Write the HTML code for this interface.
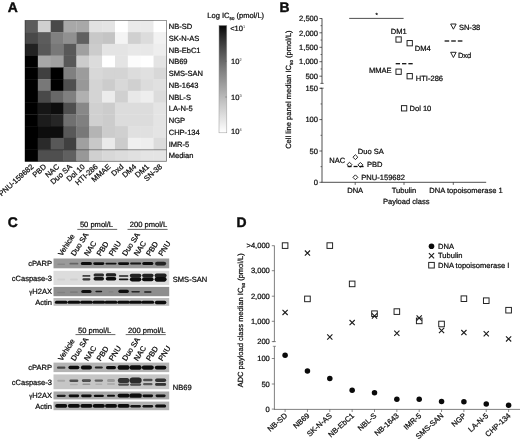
<!DOCTYPE html>
<html lang="en"><head><meta charset="utf-8"><title>Figure</title>
<style>
html,body{margin:0;padding:0;background:#fff;}
body{width:520px;height:439px;overflow:hidden;}
svg{display:block;filter:blur(0.3px);font-family:"Liberation Sans",Arial,sans-serif;}
text{fill:#0c0c0c;stroke:#0c0c0c;stroke-width:0.23px;text-rendering:geometricPrecision;}
text.pl{stroke-width:0.4px;}
</style></head><body>
<svg width="520" height="439" viewBox="0 0 520 439">
<defs>
<linearGradient id="cb" x1="0" y1="0" x2="0" y2="1"><stop offset="0" stop-color="#080808"/><stop offset="0.02" stop-color="#0c0c0c"/><stop offset="0.05" stop-color="rgb(23,23,23)"/><stop offset="0.10" stop-color="rgb(40,40,40)"/><stop offset="0.15" stop-color="rgb(56,56,56)"/><stop offset="0.20" stop-color="rgb(70,70,70)"/><stop offset="0.25" stop-color="rgb(84,84,84)"/><stop offset="0.30" stop-color="rgb(97,97,97)"/><stop offset="0.35" stop-color="rgb(110,110,110)"/><stop offset="0.40" stop-color="rgb(123,123,123)"/><stop offset="0.45" stop-color="rgb(135,135,135)"/><stop offset="0.50" stop-color="rgb(146,146,146)"/><stop offset="0.55" stop-color="rgb(158,158,158)"/><stop offset="0.60" stop-color="rgb(169,169,169)"/><stop offset="0.65" stop-color="rgb(181,181,181)"/><stop offset="0.70" stop-color="rgb(192,192,192)"/><stop offset="0.75" stop-color="rgb(203,203,203)"/><stop offset="0.80" stop-color="rgb(213,213,213)"/><stop offset="0.85" stop-color="rgb(224,224,224)"/><stop offset="0.90" stop-color="rgb(234,234,234)"/><stop offset="0.95" stop-color="rgb(245,245,245)"/><stop offset="1.00" stop-color="rgb(255,255,255)"/></linearGradient>
<filter id="b1" x="-10%" y="-50%" width="120%" height="200%"><feGaussianBlur stdDeviation="0.7"/></filter>
<filter id="b03" x="-5%" y="-5%" width="110%" height="110%"><feGaussianBlur stdDeviation="0.35"/></filter>
</defs>
<rect width="520" height="439" fill="#fff"/>
<text x="7.7" y="12.0" font-size="13.9" text-anchor="start" font-weight="bold" class="pl">A</text>
<text x="279.5" y="12.0" font-size="13.9" text-anchor="start" font-weight="bold" class="pl">B</text>
<text x="7.8" y="226.6" font-size="13.9" text-anchor="start" font-weight="bold" class="pl">C</text>
<text x="236.6" y="226.9" font-size="13.9" text-anchor="start" font-weight="bold" class="pl">D</text>
<g filter="url(#b03)">
<rect x="25.00" y="20.40" width="13.15" height="12.04" fill="rgb(92,92,92)"/>
<rect x="37.85" y="20.40" width="13.15" height="12.04" fill="rgb(208,208,208)"/>
<rect x="50.71" y="20.40" width="13.15" height="12.04" fill="rgb(72,72,72)"/>
<rect x="63.56" y="20.40" width="13.15" height="12.04" fill="rgb(168,168,168)"/>
<rect x="76.42" y="20.40" width="13.15" height="12.04" fill="rgb(168,168,168)"/>
<rect x="89.27" y="20.40" width="13.15" height="12.04" fill="rgb(226,226,226)"/>
<rect x="102.13" y="20.40" width="13.15" height="12.04" fill="rgb(228,228,228)"/>
<rect x="114.98" y="20.40" width="13.15" height="12.04" fill="rgb(255,255,255)"/>
<rect x="127.84" y="20.40" width="13.15" height="12.04" fill="rgb(234,234,234)"/>
<rect x="140.69" y="20.40" width="13.15" height="12.04" fill="rgb(234,234,234)"/>
<rect x="153.55" y="20.40" width="13.15" height="12.04" fill="rgb(255,255,255)"/>
<rect x="25.00" y="32.14" width="13.15" height="12.04" fill="rgb(72,72,72)"/>
<rect x="37.85" y="32.14" width="13.15" height="12.04" fill="rgb(92,92,92)"/>
<rect x="50.71" y="32.14" width="13.15" height="12.04" fill="rgb(128,128,128)"/>
<rect x="63.56" y="32.14" width="13.15" height="12.04" fill="rgb(144,144,144)"/>
<rect x="76.42" y="32.14" width="13.15" height="12.04" fill="rgb(96,96,96)"/>
<rect x="89.27" y="32.14" width="13.15" height="12.04" fill="rgb(200,200,200)"/>
<rect x="102.13" y="32.14" width="13.15" height="12.04" fill="rgb(196,196,196)"/>
<rect x="114.98" y="32.14" width="13.15" height="12.04" fill="rgb(244,244,244)"/>
<rect x="127.84" y="32.14" width="13.15" height="12.04" fill="rgb(208,208,208)"/>
<rect x="140.69" y="32.14" width="13.15" height="12.04" fill="rgb(220,220,220)"/>
<rect x="153.55" y="32.14" width="13.15" height="12.04" fill="rgb(242,242,242)"/>
<rect x="25.00" y="43.88" width="13.15" height="12.04" fill="rgb(32,32,32)"/>
<rect x="37.85" y="43.88" width="13.15" height="12.04" fill="rgb(88,88,88)"/>
<rect x="50.71" y="43.88" width="13.15" height="12.04" fill="rgb(120,120,120)"/>
<rect x="63.56" y="43.88" width="13.15" height="12.04" fill="rgb(88,88,88)"/>
<rect x="76.42" y="43.88" width="13.15" height="12.04" fill="rgb(160,160,160)"/>
<rect x="89.27" y="43.88" width="13.15" height="12.04" fill="rgb(204,204,204)"/>
<rect x="102.13" y="43.88" width="13.15" height="12.04" fill="rgb(228,228,228)"/>
<rect x="114.98" y="43.88" width="13.15" height="12.04" fill="rgb(228,228,228)"/>
<rect x="127.84" y="43.88" width="13.15" height="12.04" fill="rgb(232,232,232)"/>
<rect x="140.69" y="43.88" width="13.15" height="12.04" fill="rgb(232,232,232)"/>
<rect x="153.55" y="43.88" width="13.15" height="12.04" fill="rgb(238,238,238)"/>
<rect x="25.00" y="55.62" width="13.15" height="12.04" fill="rgb(6,6,6)"/>
<rect x="37.85" y="55.62" width="13.15" height="12.04" fill="rgb(168,168,168)"/>
<rect x="50.71" y="55.62" width="13.15" height="12.04" fill="rgb(160,160,160)"/>
<rect x="63.56" y="55.62" width="13.15" height="12.04" fill="rgb(88,88,88)"/>
<rect x="76.42" y="55.62" width="13.15" height="12.04" fill="rgb(204,204,204)"/>
<rect x="89.27" y="55.62" width="13.15" height="12.04" fill="rgb(220,220,220)"/>
<rect x="102.13" y="55.62" width="13.15" height="12.04" fill="rgb(255,255,255)"/>
<rect x="114.98" y="55.62" width="13.15" height="12.04" fill="rgb(228,228,228)"/>
<rect x="127.84" y="55.62" width="13.15" height="12.04" fill="rgb(252,252,252)"/>
<rect x="140.69" y="55.62" width="13.15" height="12.04" fill="rgb(255,255,255)"/>
<rect x="153.55" y="55.62" width="13.15" height="12.04" fill="rgb(228,228,228)"/>
<rect x="25.00" y="67.37" width="13.15" height="12.04" fill="rgb(6,6,6)"/>
<rect x="37.85" y="67.37" width="13.15" height="12.04" fill="rgb(64,64,64)"/>
<rect x="50.71" y="67.37" width="13.15" height="12.04" fill="rgb(6,6,6)"/>
<rect x="63.56" y="67.37" width="13.15" height="12.04" fill="rgb(128,128,128)"/>
<rect x="76.42" y="67.37" width="13.15" height="12.04" fill="rgb(156,156,156)"/>
<rect x="89.27" y="67.37" width="13.15" height="12.04" fill="rgb(216,216,216)"/>
<rect x="102.13" y="67.37" width="13.15" height="12.04" fill="rgb(212,212,212)"/>
<rect x="114.98" y="67.37" width="13.15" height="12.04" fill="rgb(212,212,212)"/>
<rect x="127.84" y="67.37" width="13.15" height="12.04" fill="rgb(220,220,220)"/>
<rect x="140.69" y="67.37" width="13.15" height="12.04" fill="rgb(224,224,224)"/>
<rect x="153.55" y="67.37" width="13.15" height="12.04" fill="rgb(216,216,216)"/>
<rect x="25.00" y="79.11" width="13.15" height="12.04" fill="rgb(6,6,6)"/>
<rect x="37.85" y="79.11" width="13.15" height="12.04" fill="rgb(120,120,120)"/>
<rect x="50.71" y="79.11" width="13.15" height="12.04" fill="rgb(6,6,6)"/>
<rect x="63.56" y="79.11" width="13.15" height="12.04" fill="rgb(80,80,80)"/>
<rect x="76.42" y="79.11" width="13.15" height="12.04" fill="rgb(152,152,152)"/>
<rect x="89.27" y="79.11" width="13.15" height="12.04" fill="rgb(212,212,212)"/>
<rect x="102.13" y="79.11" width="13.15" height="12.04" fill="rgb(204,204,204)"/>
<rect x="114.98" y="79.11" width="13.15" height="12.04" fill="rgb(216,216,216)"/>
<rect x="127.84" y="79.11" width="13.15" height="12.04" fill="rgb(208,208,208)"/>
<rect x="140.69" y="79.11" width="13.15" height="12.04" fill="rgb(220,220,220)"/>
<rect x="153.55" y="79.11" width="13.15" height="12.04" fill="rgb(224,224,224)"/>
<rect x="25.00" y="90.85" width="13.15" height="12.04" fill="rgb(6,6,6)"/>
<rect x="37.85" y="90.85" width="13.15" height="12.04" fill="rgb(72,72,72)"/>
<rect x="50.71" y="90.85" width="13.15" height="12.04" fill="rgb(104,104,104)"/>
<rect x="63.56" y="90.85" width="13.15" height="12.04" fill="rgb(128,128,128)"/>
<rect x="76.42" y="90.85" width="13.15" height="12.04" fill="rgb(176,176,176)"/>
<rect x="89.27" y="90.85" width="13.15" height="12.04" fill="rgb(212,212,212)"/>
<rect x="102.13" y="90.85" width="13.15" height="12.04" fill="rgb(236,236,236)"/>
<rect x="114.98" y="90.85" width="13.15" height="12.04" fill="rgb(208,208,208)"/>
<rect x="127.84" y="90.85" width="13.15" height="12.04" fill="rgb(232,232,232)"/>
<rect x="140.69" y="90.85" width="13.15" height="12.04" fill="rgb(238,238,238)"/>
<rect x="153.55" y="90.85" width="13.15" height="12.04" fill="rgb(220,220,220)"/>
<rect x="25.00" y="102.59" width="13.15" height="12.04" fill="rgb(6,6,6)"/>
<rect x="37.85" y="102.59" width="13.15" height="12.04" fill="rgb(24,24,24)"/>
<rect x="50.71" y="102.59" width="13.15" height="12.04" fill="rgb(12,12,12)"/>
<rect x="63.56" y="102.59" width="13.15" height="12.04" fill="rgb(80,80,80)"/>
<rect x="76.42" y="102.59" width="13.15" height="12.04" fill="rgb(136,136,136)"/>
<rect x="89.27" y="102.59" width="13.15" height="12.04" fill="rgb(208,208,208)"/>
<rect x="102.13" y="102.59" width="13.15" height="12.04" fill="rgb(204,204,204)"/>
<rect x="114.98" y="102.59" width="13.15" height="12.04" fill="rgb(220,220,220)"/>
<rect x="127.84" y="102.59" width="13.15" height="12.04" fill="rgb(220,220,220)"/>
<rect x="140.69" y="102.59" width="13.15" height="12.04" fill="rgb(220,220,220)"/>
<rect x="153.55" y="102.59" width="13.15" height="12.04" fill="rgb(228,228,228)"/>
<rect x="25.00" y="114.33" width="13.15" height="12.04" fill="rgb(6,6,6)"/>
<rect x="37.85" y="114.33" width="13.15" height="12.04" fill="rgb(28,28,28)"/>
<rect x="50.71" y="114.33" width="13.15" height="12.04" fill="rgb(40,40,40)"/>
<rect x="63.56" y="114.33" width="13.15" height="12.04" fill="rgb(112,112,112)"/>
<rect x="76.42" y="114.33" width="13.15" height="12.04" fill="rgb(128,128,128)"/>
<rect x="89.27" y="114.33" width="13.15" height="12.04" fill="rgb(208,208,208)"/>
<rect x="102.13" y="114.33" width="13.15" height="12.04" fill="rgb(204,204,204)"/>
<rect x="114.98" y="114.33" width="13.15" height="12.04" fill="rgb(220,220,220)"/>
<rect x="127.84" y="114.33" width="13.15" height="12.04" fill="rgb(220,220,220)"/>
<rect x="140.69" y="114.33" width="13.15" height="12.04" fill="rgb(220,220,220)"/>
<rect x="153.55" y="114.33" width="13.15" height="12.04" fill="rgb(228,228,228)"/>
<rect x="25.00" y="126.08" width="13.15" height="12.04" fill="rgb(6,6,6)"/>
<rect x="37.85" y="126.08" width="13.15" height="12.04" fill="rgb(12,12,12)"/>
<rect x="50.71" y="126.08" width="13.15" height="12.04" fill="rgb(12,12,12)"/>
<rect x="63.56" y="126.08" width="13.15" height="12.04" fill="rgb(88,88,88)"/>
<rect x="76.42" y="126.08" width="13.15" height="12.04" fill="rgb(120,120,120)"/>
<rect x="89.27" y="126.08" width="13.15" height="12.04" fill="rgb(180,180,180)"/>
<rect x="102.13" y="126.08" width="13.15" height="12.04" fill="rgb(204,204,204)"/>
<rect x="114.98" y="126.08" width="13.15" height="12.04" fill="rgb(208,208,208)"/>
<rect x="127.84" y="126.08" width="13.15" height="12.04" fill="rgb(224,224,224)"/>
<rect x="140.69" y="126.08" width="13.15" height="12.04" fill="rgb(224,224,224)"/>
<rect x="153.55" y="126.08" width="13.15" height="12.04" fill="rgb(228,228,228)"/>
<rect x="25.00" y="137.82" width="13.15" height="12.04" fill="rgb(6,6,6)"/>
<rect x="37.85" y="137.82" width="13.15" height="12.04" fill="rgb(44,44,44)"/>
<rect x="50.71" y="137.82" width="13.15" height="12.04" fill="rgb(88,88,88)"/>
<rect x="63.56" y="137.82" width="13.15" height="12.04" fill="rgb(64,64,64)"/>
<rect x="76.42" y="137.82" width="13.15" height="12.04" fill="rgb(160,160,160)"/>
<rect x="89.27" y="137.82" width="13.15" height="12.04" fill="rgb(200,200,200)"/>
<rect x="102.13" y="137.82" width="13.15" height="12.04" fill="rgb(234,234,234)"/>
<rect x="114.98" y="137.82" width="13.15" height="12.04" fill="rgb(204,204,204)"/>
<rect x="127.84" y="137.82" width="13.15" height="12.04" fill="rgb(240,240,240)"/>
<rect x="140.69" y="137.82" width="13.15" height="12.04" fill="rgb(238,238,238)"/>
<rect x="153.55" y="137.82" width="13.15" height="12.04" fill="rgb(220,220,220)"/>
<rect x="25.00" y="149.56" width="13.15" height="12.04" fill="rgb(6,6,6)"/>
<rect x="37.85" y="149.56" width="13.15" height="12.04" fill="rgb(80,80,80)"/>
<rect x="50.71" y="149.56" width="13.15" height="12.04" fill="rgb(80,80,80)"/>
<rect x="63.56" y="149.56" width="13.15" height="12.04" fill="rgb(96,96,96)"/>
<rect x="76.42" y="149.56" width="13.15" height="12.04" fill="rgb(152,152,152)"/>
<rect x="89.27" y="149.56" width="13.15" height="12.04" fill="rgb(208,208,208)"/>
<rect x="102.13" y="149.56" width="13.15" height="12.04" fill="rgb(216,216,216)"/>
<rect x="114.98" y="149.56" width="13.15" height="12.04" fill="rgb(220,220,220)"/>
<rect x="127.84" y="149.56" width="13.15" height="12.04" fill="rgb(224,224,224)"/>
<rect x="140.69" y="149.56" width="13.15" height="12.04" fill="rgb(228,228,228)"/>
<rect x="153.55" y="149.56" width="13.15" height="12.04" fill="rgb(228,228,228)"/>
</g>
<rect x="25.0" y="20.4" width="141.40" height="140.90" fill="none" stroke="#000" stroke-opacity="0.5" stroke-width="0.8"/>
<line x1="25.0" y1="149.75833333333333" x2="166.4" y2="149.75833333333333" stroke="#000" stroke-width="0.8" stroke-opacity="0.5"/>
<text x="168.7" y="29.17" font-size="7.55" text-anchor="start">NB-SD</text>
<text x="168.7" y="40.91" font-size="7.55" text-anchor="start">SK-N-AS</text>
<text x="168.7" y="52.65" font-size="7.55" text-anchor="start">NB-EbC1</text>
<text x="168.7" y="64.4" font-size="7.55" text-anchor="start">NB69</text>
<text x="168.7" y="76.14" font-size="7.55" text-anchor="start">SMS-SAN</text>
<text x="168.7" y="87.88" font-size="7.55" text-anchor="start">NB-1643</text>
<text x="168.7" y="99.62" font-size="7.55" text-anchor="start">NBL-S</text>
<text x="168.7" y="111.36" font-size="7.55" text-anchor="start">LA-N-5</text>
<text x="168.7" y="123.1" font-size="7.55" text-anchor="start">NGP</text>
<text x="168.7" y="134.85" font-size="7.55" text-anchor="start">CHP-134</text>
<text x="168.7" y="146.59" font-size="7.55" text-anchor="start">IMR-5</text>
<text x="168.7" y="158.33" font-size="7.55" text-anchor="start">Median</text>
<text x="34.03" y="167.4" font-size="7.55" text-anchor="end" transform="rotate(-42 34.03 167.4)">PNU-159682</text>
<text x="46.88" y="167.4" font-size="7.55" text-anchor="end" transform="rotate(-42 46.88 167.4)">PBD</text>
<text x="59.74" y="167.4" font-size="7.55" text-anchor="end" transform="rotate(-42 59.74 167.4)">NAC</text>
<text x="72.59" y="167.4" font-size="7.55" text-anchor="end" transform="rotate(-42 72.59 167.4)">Duo SA</text>
<text x="85.45" y="167.4" font-size="7.55" text-anchor="end" transform="rotate(-42 85.45 167.4)">Dol 10</text>
<text x="98.3" y="167.4" font-size="7.55" text-anchor="end" transform="rotate(-42 98.3 167.4)">HTI-286</text>
<text x="111.15" y="167.4" font-size="7.55" text-anchor="end" transform="rotate(-42 111.15 167.4)">MMAE</text>
<text x="124.01" y="167.4" font-size="7.55" text-anchor="end" transform="rotate(-42 124.01 167.4)">Dxd</text>
<text x="136.86" y="167.4" font-size="7.55" text-anchor="end" transform="rotate(-42 136.86 167.4)">DM4</text>
<text x="149.72" y="167.4" font-size="7.55" text-anchor="end" transform="rotate(-42 149.72 167.4)">DM1</text>
<text x="162.57" y="167.4" font-size="7.55" text-anchor="end" transform="rotate(-42 162.57 167.4)">SN-38</text>
<rect x="219" y="25.4" width="7.8" height="107.4" fill="url(#cb)" stroke="#999" stroke-width="0.5"/>
<line x1="225.3" y1="61.2" x2="226.8" y2="61.2" stroke="#555" stroke-width="0.5"/>
<line x1="225.3" y1="97.0" x2="226.8" y2="97.0" stroke="#555" stroke-width="0.5"/>
<text x="207.3" y="18.3" font-size="7.55">Log IC<tspan font-size="4.3" dy="1.8">50</tspan><tspan dy="-1.8"> (pmol/L)</tspan></text>
<text x="230.2" y="30.8" font-size="7.55">&lt;10<tspan font-size="3.9" dy="-3.2" stroke="none" fill="#333">1</tspan></text>
<text x="231.0" y="64.0" font-size="7.55">10<tspan font-size="3.9" dy="-3.2" stroke="none" fill="#333">2</tspan></text>
<text x="231.0" y="100.0" font-size="7.55">10<tspan font-size="3.9" dy="-3.2" stroke="none" fill="#333">3</tspan></text>
<text x="231.0" y="134.2" font-size="7.55">10<tspan font-size="3.9" dy="-3.2" stroke="none" fill="#333">4</tspan></text>
<line x1="322.0" y1="18.3" x2="322.0" y2="83.4" stroke="#222" stroke-width="0.8"/>
<line x1="322.0" y1="88.2" x2="322.0" y2="182.3" stroke="#222" stroke-width="0.8"/>
<line x1="321.6" y1="182.3" x2="486.2" y2="182.3" stroke="#222" stroke-width="0.8"/>
<line x1="320.4" y1="83.4" x2="323.6" y2="83.4" stroke="#222" stroke-width="0.7"/>
<line x1="320.4" y1="88.2" x2="323.6" y2="88.2" stroke="#222" stroke-width="0.7"/>
<line x1="319.4" y1="18.5" x2="322.0" y2="18.5" stroke="#222" stroke-width="0.7"/>
<text x="318.0" y="21.2" font-size="7.55" text-anchor="end">2,500</text>
<line x1="319.4" y1="32.8" x2="322.0" y2="32.8" stroke="#222" stroke-width="0.7"/>
<text x="318.0" y="35.5" font-size="7.55" text-anchor="end">2,000</text>
<line x1="319.4" y1="47.3" x2="322.0" y2="47.3" stroke="#222" stroke-width="0.7"/>
<text x="318.0" y="50.0" font-size="7.55" text-anchor="end">1,500</text>
<line x1="319.4" y1="61.7" x2="322.0" y2="61.7" stroke="#222" stroke-width="0.7"/>
<text x="318.0" y="64.4" font-size="7.55" text-anchor="end">1,000</text>
<line x1="319.4" y1="76.2" x2="322.0" y2="76.2" stroke="#222" stroke-width="0.7"/>
<text x="318.0" y="78.9" font-size="7.55" text-anchor="end">500</text>
<line x1="319.4" y1="88.3" x2="322.0" y2="88.3" stroke="#222" stroke-width="0.7"/>
<text x="318.0" y="91.0" font-size="7.55" text-anchor="end">150</text>
<line x1="319.4" y1="119.6" x2="322.0" y2="119.6" stroke="#222" stroke-width="0.7"/>
<text x="318.0" y="122.3" font-size="7.55" text-anchor="end">100</text>
<line x1="319.4" y1="151.0" x2="322.0" y2="151.0" stroke="#222" stroke-width="0.7"/>
<text x="318.0" y="153.7" font-size="7.55" text-anchor="end">50</text>
<line x1="319.4" y1="182.3" x2="322.0" y2="182.3" stroke="#222" stroke-width="0.7"/>
<text x="318.0" y="185.0" font-size="7.55" text-anchor="end">0</text>
<line x1="320.5" y1="25.65" x2="322.0" y2="25.65" stroke="#222" stroke-width="0.6"/>
<line x1="320.5" y1="40.05" x2="322.0" y2="40.05" stroke="#222" stroke-width="0.6"/>
<line x1="320.5" y1="54.5" x2="322.0" y2="54.5" stroke="#222" stroke-width="0.6"/>
<line x1="320.5" y1="68.95" x2="322.0" y2="68.95" stroke="#222" stroke-width="0.6"/>
<line x1="320.5" y1="103.95" x2="322.0" y2="103.95" stroke="#222" stroke-width="0.6"/>
<line x1="320.5" y1="135.3" x2="322.0" y2="135.3" stroke="#222" stroke-width="0.6"/>
<line x1="320.5" y1="166.65" x2="322.0" y2="166.65" stroke="#222" stroke-width="0.6"/>
<line x1="355.2" y1="182.3" x2="355.2" y2="184.9" stroke="#222" stroke-width="0.7"/>
<text x="355.2" y="192.9" font-size="7.55" text-anchor="middle">DNA</text>
<line x1="404.0" y1="182.3" x2="404.0" y2="184.9" stroke="#222" stroke-width="0.7"/>
<text x="404.0" y="192.9" font-size="7.55" text-anchor="middle">Tubulin</text>
<line x1="453.3" y1="182.3" x2="453.3" y2="184.9" stroke="#222" stroke-width="0.7"/>
<text x="466.0" y="192.9" font-size="7.55" text-anchor="middle">DNA topoisomerase 1</text>
<text x="406.2" y="204.4" font-size="7.55" text-anchor="middle">Payload class</text>
<text x="291.4" y="89.6" font-size="7.55" text-anchor="middle" transform="rotate(-90 291.4 89.6)">Cell line panel median IC<tspan font-size="4.3" dy="1.8">50</tspan><tspan dy="-1.8"> (pmol/L)</tspan></text>
<line x1="349.2" y1="18.4" x2="403.6" y2="18.4" stroke="#222" stroke-width="0.8"/>
<text x="376.6" y="17.2" font-size="6" text-anchor="middle">*</text>
<path d="M352.95,157.2 L355.4,154.75 L357.85,157.2 L355.4,159.65 Z" fill="#fff" stroke="#1a1a1a" stroke-width="0.95"/>
<path d="M347.05,164.7 L349.5,162.25 L351.95,164.7 L349.5,167.15 Z" fill="#fff" stroke="#1a1a1a" stroke-width="0.95"/>
<path d="M357.95,164.9 L360.4,162.45 L362.85,164.9 L360.4,167.35 Z" fill="#fff" stroke="#1a1a1a" stroke-width="0.95"/>
<path d="M352.95,177.3 L355.4,174.85 L357.85,177.3 L355.4,179.75 Z" fill="#fff" stroke="#1a1a1a" stroke-width="0.95"/>
<rect x="347.60" y="165.85" width="4.00" height="1.3" fill="#111"/>
<rect x="353.60" y="165.85" width="4.00" height="1.3" fill="#111"/>
<rect x="359.60" y="165.85" width="4.00" height="1.3" fill="#111"/>
<text x="357.8" y="154.2" font-size="7.55" text-anchor="start">Duo SA</text>
<text x="345.3" y="163.2" font-size="7.55" text-anchor="end">NAC</text>
<text x="367.0" y="166.5" font-size="7.55" text-anchor="start">PBD</text>
<text x="361.3" y="179.7" font-size="7.55" text-anchor="start">PNU-159682</text>
<rect x="395.70" y="63.05" width="4.33" height="1.3" fill="#111"/>
<rect x="402.03" y="63.05" width="4.33" height="1.3" fill="#111"/>
<rect x="408.37" y="63.05" width="4.33" height="1.3" fill="#111"/>
<rect x="395.95" y="36.85" width="5.3" height="5.3" fill="#fff" stroke="#1a1a1a" stroke-width="0.95"/>
<rect x="407.05" y="40.55" width="5.3" height="5.3" fill="#fff" stroke="#1a1a1a" stroke-width="0.95"/>
<rect x="395.95" y="69.05" width="5.3" height="5.3" fill="#fff" stroke="#1a1a1a" stroke-width="0.95"/>
<rect x="407.05" y="73.55" width="5.3" height="5.3" fill="#fff" stroke="#1a1a1a" stroke-width="0.95"/>
<rect x="401.45" y="105.65" width="5.3" height="5.3" fill="#fff" stroke="#1a1a1a" stroke-width="0.95"/>
<text x="398.8" y="34.4" font-size="7.55" text-anchor="middle">DM1</text>
<text x="414.8" y="50.9" font-size="7.55" text-anchor="start">DM4</text>
<text x="391.6" y="73.0" font-size="7.55" text-anchor="end">MMAE</text>
<text x="415.8" y="80.6" font-size="7.55" text-anchor="start">HTI-286</text>
<text x="409.5" y="111.3" font-size="7.55" text-anchor="start">Dol 10</text>
<rect x="444.60" y="40.35" width="4.60" height="1.3" fill="#111"/>
<rect x="451.20" y="40.35" width="4.60" height="1.3" fill="#111"/>
<rect x="457.80" y="40.35" width="4.60" height="1.3" fill="#111"/>
<path d="M450.65,24.0 L456.15,24.0 L453.4,29.200000000000003 Z" fill="#fff" stroke="#1a1a1a" stroke-width="0.95"/>
<path d="M450.65,52.3 L456.15,52.3 L453.4,57.5 Z" fill="#fff" stroke="#1a1a1a" stroke-width="0.95"/>
<text x="458.9" y="29.5" font-size="7.55" text-anchor="start">SN-38</text>
<text x="457.9" y="58.4" font-size="7.55" text-anchor="start">Dxd</text>
<text x="96.5" y="227.0" font-size="7.55" text-anchor="middle">50 pmol/L</text>
<text x="148.5" y="227.0" font-size="7.55" text-anchor="middle">200 pmol/L</text>
<line x1="77.3" y1="229.4" x2="117.2" y2="229.4" stroke="#222" stroke-width="0.7"/>
<line x1="127.5" y1="229.4" x2="167.6" y2="229.4" stroke="#222" stroke-width="0.7"/>
<text x="61.9" y="256.6" font-size="7.55" text-anchor="start" transform="rotate(-57 61.9 256.6)">Vehicle</text>
<text x="74.7" y="256.6" font-size="7.55" text-anchor="start" transform="rotate(-57 74.7 256.6)">Duo SA</text>
<text x="88.1" y="256.6" font-size="7.55" text-anchor="start" transform="rotate(-57 88.1 256.6)">NAC</text>
<text x="100.5" y="256.6" font-size="7.55" text-anchor="start" transform="rotate(-57 100.5 256.6)">PBD</text>
<text x="112.7" y="256.6" font-size="7.55" text-anchor="start" transform="rotate(-57 112.7 256.6)">PNU</text>
<text x="126.0" y="256.6" font-size="7.55" text-anchor="start" transform="rotate(-57 126.0 256.6)">Duo SA</text>
<text x="137.8" y="256.6" font-size="7.55" text-anchor="start" transform="rotate(-57 137.8 256.6)">NAC</text>
<text x="150.0" y="256.6" font-size="7.55" text-anchor="start" transform="rotate(-57 150.0 256.6)">PBD</text>
<text x="162.3" y="256.6" font-size="7.55" text-anchor="start" transform="rotate(-57 162.3 256.6)">PNU</text>
<text x="172.8" y="282.4" font-size="7.55" text-anchor="start">SMS-SAN</text>
<rect x="53.5" y="258.5" width="115.70" height="9.80" fill="#9a9a9a"/>
<clipPath id="c2585"><rect x="53.5" y="258.5" width="115.70" height="9.80"/></clipPath>
<g clip-path="url(#c2585)"><g filter="url(#b1)">
<rect x="57.20" y="263.40" width="8" height="1.6" rx="0.80" fill="#0a0a0a" opacity="0.12"/>
<rect x="69.40" y="262.80" width="9" height="1.8" rx="0.90" fill="#0a0a0a" opacity="0.35"/>
<rect x="80.90" y="262.10" width="11.0" height="3.0" rx="1.50" fill="#0a0a0a" opacity="1"/>
<rect x="93.30" y="262.20" width="11.0" height="2.8" rx="1.40" fill="#0a0a0a" opacity="1"/>
<rect x="105.50" y="262.75" width="11.0" height="1.7" rx="0.85" fill="#0a0a0a" opacity="0.95"/>
<rect x="118.10" y="262.15" width="11.0" height="2.9" rx="1.45" fill="#0a0a0a" opacity="1"/>
<rect x="130.10" y="262.60" width="11.0" height="2.0" rx="1.00" fill="#0a0a0a" opacity="0.92"/>
<rect x="142.30" y="262.10" width="11.0" height="3.0" rx="1.50" fill="#0a0a0a" opacity="1"/>
<rect x="155.10" y="261.65" width="11.0" height="3.9" rx="1.95" fill="#0a0a0a" opacity="0.85"/>
</g></g>
<text x="52.0" y="266.3" font-size="7.55" text-anchor="end">cPARP</text>
<rect x="53.5" y="270.8" width="115.70" height="14.30" fill="#dcdcdc"/>
<clipPath id="c2708"><rect x="53.5" y="270.8" width="115.70" height="14.30"/></clipPath>
<g clip-path="url(#c2708)"><g filter="url(#b1)">
<rect x="57.20" y="278.45" width="8" height="2" rx="1.00" fill="#0a0a0a" opacity="0.05"/>
<rect x="69.90" y="278.45" width="8" height="2" rx="1.00" fill="#0a0a0a" opacity="0.06"/>
<rect x="82.40" y="275.05" width="8.0" height="1.8" rx="0.90" fill="#0a0a0a" opacity="0.7200000000000001"/>
<rect x="82.40" y="278.25" width="8.0" height="2.2" rx="1.10" fill="#0a0a0a" opacity="0.8"/>
<rect x="93.55" y="273.45" width="10.5" height="3.0" rx="1.50" fill="#0a0a0a" opacity="0.855"/>
<rect x="93.55" y="277.05" width="10.5" height="3.4" rx="1.70" fill="#0a0a0a" opacity="0.95"/>
<rect x="105.75" y="273.35" width="10.5" height="3.2" rx="1.60" fill="#0a0a0a" opacity="0.9"/>
<rect x="105.75" y="276.95" width="10.5" height="3.6" rx="1.80" fill="#0a0a0a" opacity="1"/>
<rect x="118.85" y="275.20" width="9.5" height="1.5" rx="0.75" fill="#0a0a0a" opacity="0.855"/>
<rect x="118.85" y="278.40" width="9.5" height="1.9" rx="0.95" fill="#0a0a0a" opacity="0.95"/>
<rect x="129.85" y="273.65" width="11.5" height="3.8" rx="1.90" fill="#0a0a0a" opacity="0.9"/>
<rect x="129.85" y="277.25" width="11.5" height="4.2" rx="2.10" fill="#0a0a0a" opacity="1"/>
<rect x="142.05" y="273.75" width="11.5" height="3.6" rx="1.80" fill="#0a0a0a" opacity="0.9"/>
<rect x="142.05" y="277.35" width="11.5" height="4.0" rx="2.00" fill="#0a0a0a" opacity="1"/>
<rect x="154.60" y="273.45" width="12" height="4.2" rx="2.10" fill="#0a0a0a" opacity="0.9"/>
<rect x="154.60" y="277.05" width="12" height="4.6000000000000005" rx="2.30" fill="#0a0a0a" opacity="1"/>
</g></g>
<text x="52.0" y="280.85" font-size="7.55" text-anchor="end">cCaspase-3</text>
<rect x="53.5" y="286.9" width="115.70" height="9.30" fill="#8e8e8e"/>
<clipPath id="c2869"><rect x="53.5" y="286.9" width="115.70" height="9.30"/></clipPath>
<g clip-path="url(#c2869)"><g filter="url(#b1)">
<rect x="57.20" y="291.80" width="8" height="1.5" rx="0.75" fill="#0a0a0a" opacity="0.1"/>
<rect x="69.90" y="291.35" width="8" height="1.6" rx="0.80" fill="#0a0a0a" opacity="0.13"/>
<rect x="81.30" y="290.05" width="10.2" height="3.0" rx="1.50" fill="#0a0a0a" opacity="1"/>
<rect x="95.40" y="290.75" width="6.8" height="1.6" rx="0.80" fill="#0a0a0a" opacity="0.9"/>
<rect x="108.50" y="291.30" width="5" height="1.3" rx="0.65" fill="#0a0a0a" opacity="0.1"/>
<rect x="118.35" y="289.80" width="10.5" height="3.1" rx="1.55" fill="#0a0a0a" opacity="1"/>
<rect x="131.35" y="290.95" width="8.5" height="1.6" rx="0.80" fill="#0a0a0a" opacity="0.8"/>
<rect x="144.05" y="291.15" width="7.5" height="1.6" rx="0.80" fill="#0a0a0a" opacity="0.8"/>
</g></g>
<text x="52.0" y="294.45" font-size="7.55" text-anchor="end"><tspan font-family="Liberation Serif, serif" font-size="6.8">γ</tspan>H2AX</text>
<rect x="53.5" y="298.0" width="115.70" height="7.80" fill="#bcbcbc"/>
<clipPath id="c2980"><rect x="53.5" y="298.0" width="115.70" height="7.80"/></clipPath>
<g clip-path="url(#c2980)"><g filter="url(#b1)">
<rect x="54.90" y="300.70" width="12.6" height="3.0" rx="1.50" fill="#0a0a0a" opacity="1"/>
<rect x="67.60" y="300.70" width="12.6" height="3.0" rx="1.50" fill="#0a0a0a" opacity="1"/>
<rect x="80.10" y="300.70" width="12.6" height="3.0" rx="1.50" fill="#0a0a0a" opacity="1"/>
<rect x="92.50" y="300.70" width="12.6" height="3.0" rx="1.50" fill="#0a0a0a" opacity="1"/>
<rect x="104.70" y="300.70" width="12.6" height="3.0" rx="1.50" fill="#0a0a0a" opacity="1"/>
<rect x="117.30" y="300.70" width="12.6" height="3.0" rx="1.50" fill="#0a0a0a" opacity="1"/>
<rect x="129.30" y="300.70" width="12.6" height="3.0" rx="1.50" fill="#0a0a0a" opacity="1"/>
<rect x="141.50" y="300.70" width="12.6" height="3.0" rx="1.50" fill="#0a0a0a" opacity="1"/>
<rect x="154.85" y="300.75" width="11.5" height="3.5" rx="1.75" fill="#0a0a0a" opacity="1"/>
</g></g>
<text x="52.0" y="304.8" font-size="7.55" text-anchor="end">Actin</text>
<text x="94.7" y="332.6" font-size="7.55" text-anchor="middle">50 pmol/L</text>
<text x="146.7" y="332.6" font-size="7.55" text-anchor="middle">200 pmol/L</text>
<line x1="75.5" y1="334.6" x2="115.4" y2="334.6" stroke="#222" stroke-width="0.7"/>
<line x1="125.7" y1="334.6" x2="165.79999999999998" y2="334.6" stroke="#222" stroke-width="0.7"/>
<text x="61.9" y="361.4" font-size="7.55" text-anchor="start" transform="rotate(-57 61.9 361.4)">Vehicle</text>
<text x="74.7" y="361.4" font-size="7.55" text-anchor="start" transform="rotate(-57 74.7 361.4)">Duo SA</text>
<text x="88.1" y="361.4" font-size="7.55" text-anchor="start" transform="rotate(-57 88.1 361.4)">NAC</text>
<text x="100.5" y="361.4" font-size="7.55" text-anchor="start" transform="rotate(-57 100.5 361.4)">PBD</text>
<text x="112.7" y="361.4" font-size="7.55" text-anchor="start" transform="rotate(-57 112.7 361.4)">PNU</text>
<text x="126.0" y="361.4" font-size="7.55" text-anchor="start" transform="rotate(-57 126.0 361.4)">Duo SA</text>
<text x="137.8" y="361.4" font-size="7.55" text-anchor="start" transform="rotate(-57 137.8 361.4)">NAC</text>
<text x="150.0" y="361.4" font-size="7.55" text-anchor="start" transform="rotate(-57 150.0 361.4)">PBD</text>
<text x="162.3" y="361.4" font-size="7.55" text-anchor="start" transform="rotate(-57 162.3 361.4)">PNU</text>
<text x="172.8" y="390.4" font-size="7.55" text-anchor="start">NB69</text>
<rect x="53.5" y="362.6" width="115.70" height="9.50" fill="#b4b4b4"/>
<clipPath id="c3626"><rect x="53.5" y="362.6" width="115.70" height="9.50"/></clipPath>
<g clip-path="url(#c3626)"><g filter="url(#b1)">
<rect x="56.95" y="366.55" width="8.5" height="2.2" rx="1.10" fill="#0a0a0a" opacity="0.6"/>
<rect x="68.40" y="365.75" width="11" height="3.6" rx="1.80" fill="#0a0a0a" opacity="1"/>
<rect x="80.90" y="365.55" width="11" height="4.0" rx="2.00" fill="#0a0a0a" opacity="1"/>
<rect x="94.80" y="366.55" width="8" height="2.0" rx="1.00" fill="#0a0a0a" opacity="0.85"/>
<rect x="106.00" y="365.95" width="10" height="3.2" rx="1.60" fill="#0a0a0a" opacity="1"/>
<rect x="117.60" y="365.25" width="12" height="4.6" rx="2.30" fill="#0a0a0a" opacity="1"/>
<rect x="129.60" y="365.25" width="12" height="4.6" rx="2.30" fill="#0a0a0a" opacity="1"/>
<rect x="141.80" y="365.45" width="12" height="4.2" rx="2.10" fill="#0a0a0a" opacity="1"/>
<rect x="154.85" y="365.65" width="11.5" height="3.8" rx="1.90" fill="#0a0a0a" opacity="1"/>
</g></g>
<text x="52.0" y="370.25" font-size="7.55" text-anchor="end">cPARP</text>
<rect x="53.5" y="374.4" width="115.70" height="14.80" fill="#c6c6c6"/>
<clipPath id="c3744"><rect x="53.5" y="374.4" width="115.70" height="14.80"/></clipPath>
<g clip-path="url(#c3744)"><g filter="url(#b1)">
<rect x="57.20" y="379.80" width="8" height="2" rx="1.00" fill="#0a0a0a" opacity="0.15"/>
<rect x="69.40" y="379.50" width="9" height="2.6" rx="1.30" fill="#0a0a0a" opacity="0.6"/>
<rect x="69.90" y="383.65" width="8" height="1.5" rx="0.75" fill="#0a0a0a" opacity="0.12"/>
<rect x="81.90" y="379.30" width="9" height="2.6" rx="1.30" fill="#0a0a0a" opacity="0.65"/>
<rect x="82.40" y="383.40" width="8" height="1.6" rx="0.80" fill="#0a0a0a" opacity="0.25"/>
<rect x="94.55" y="379.50" width="8.5" height="2.2" rx="1.10" fill="#0a0a0a" opacity="0.5"/>
<rect x="95.30" y="383.45" width="7" height="1.5" rx="0.75" fill="#0a0a0a" opacity="0.12"/>
<rect x="107.00" y="378.90" width="8" height="3.0" rx="1.50" fill="#0a0a0a" opacity="0.22"/>
<rect x="107.00" y="383.10" width="8" height="1.8" rx="0.90" fill="#0a0a0a" opacity="0.12"/>
<rect x="117.85" y="377.90" width="11.5" height="5.0" rx="2.50" fill="#0a0a0a" opacity="0.8"/>
<rect x="118.10" y="383.50" width="11" height="2.2" rx="1.10" fill="#0a0a0a" opacity="0.6"/>
<rect x="129.60" y="377.60" width="12" height="5.6" rx="2.80" fill="#0a0a0a" opacity="0.85"/>
<rect x="130.10" y="383.40" width="11" height="2.4" rx="1.20" fill="#0a0a0a" opacity="0.65"/>
<rect x="143.05" y="378.80" width="9.5" height="2.4" rx="1.20" fill="#0a0a0a" opacity="0.6"/>
<rect x="143.05" y="383.10" width="9.5" height="2.2" rx="1.10" fill="#0a0a0a" opacity="0.55"/>
<rect x="155.10" y="378.50" width="11" height="3.4" rx="1.70" fill="#0a0a0a" opacity="0.8"/>
<rect x="155.10" y="383.10" width="11" height="2.6" rx="1.30" fill="#0a0a0a" opacity="0.8"/>
</g></g>
<text x="52.0" y="384.7" font-size="7.55" text-anchor="end">cCaspase-3</text>
<rect x="53.5" y="391.5" width="115.70" height="7.90" fill="#a8a8a8"/>
<clipPath id="c3915"><rect x="53.5" y="391.5" width="115.70" height="7.90"/></clipPath>
<g clip-path="url(#c3915)"><g filter="url(#b1)">
<rect x="56.70" y="394.75" width="9" height="2.2" rx="1.10" fill="#0a0a0a" opacity="0.9"/>
<rect x="68.65" y="394.55" width="10.5" height="2.6" rx="1.30" fill="#0a0a0a" opacity="1"/>
<rect x="81.15" y="394.55" width="10.5" height="2.6" rx="1.30" fill="#0a0a0a" opacity="1"/>
<rect x="93.80" y="394.65" width="10" height="2.4" rx="1.20" fill="#0a0a0a" opacity="1"/>
<rect x="107.00" y="394.85" width="8" height="2.0" rx="1.00" fill="#0a0a0a" opacity="1"/>
<rect x="117.60" y="393.85" width="12" height="3.6" rx="1.80" fill="#0a0a0a" opacity="1"/>
<rect x="129.35" y="393.45" width="12.5" height="4.4" rx="2.20" fill="#0a0a0a" opacity="1"/>
<rect x="142.55" y="394.55" width="10.5" height="2.6" rx="1.30" fill="#0a0a0a" opacity="1"/>
<rect x="155.60" y="394.55" width="10" height="2.6" rx="1.30" fill="#0a0a0a" opacity="0.95"/>
</g></g>
<text x="52.0" y="398.35" font-size="7.55" text-anchor="end"><tspan font-family="Liberation Serif, serif" font-size="6.8">γ</tspan>H2AX</text>
<rect x="53.5" y="401.6" width="115.70" height="8.60" fill="#b2b2b2"/>
<clipPath id="c4016"><rect x="53.5" y="401.6" width="115.70" height="8.60"/></clipPath>
<g clip-path="url(#c4016)"><g filter="url(#b1)">
<rect x="55.20" y="404.10" width="12.0" height="3.6" rx="1.80" fill="#0a0a0a" opacity="1"/>
<rect x="67.90" y="404.10" width="12.0" height="3.6" rx="1.80" fill="#0a0a0a" opacity="1"/>
<rect x="80.40" y="404.10" width="12.0" height="3.6" rx="1.80" fill="#0a0a0a" opacity="1"/>
<rect x="92.80" y="404.10" width="12.0" height="3.6" rx="1.80" fill="#0a0a0a" opacity="1"/>
<rect x="105.00" y="404.10" width="12.0" height="3.6" rx="1.80" fill="#0a0a0a" opacity="1"/>
<rect x="117.60" y="404.10" width="12.0" height="3.6" rx="1.80" fill="#0a0a0a" opacity="1"/>
<rect x="130.35" y="405.10" width="10.5" height="2.4" rx="1.20" fill="#0a0a0a" opacity="0.95"/>
<rect x="142.55" y="405.10" width="10.5" height="2.4" rx="1.20" fill="#0a0a0a" opacity="0.95"/>
<rect x="155.10" y="404.60" width="11" height="3.0" rx="1.50" fill="#0a0a0a" opacity="1"/>
</g></g>
<text x="52.0" y="408.8" font-size="7.55" text-anchor="end">Actin</text>
<line x1="274.4" y1="245.6" x2="274.4" y2="341.6" stroke="#6a6a6a" stroke-width="0.85"/>
<line x1="274.4" y1="346.3" x2="274.4" y2="409.4" stroke="#6a6a6a" stroke-width="0.85"/>
<line x1="273.97999999999996" y1="409.4" x2="520.0" y2="409.4" stroke="#6a6a6a" stroke-width="0.85"/>
<line x1="272.79999999999995" y1="341.6" x2="276.0" y2="341.6" stroke="#555" stroke-width="0.6"/>
<line x1="272.79999999999995" y1="346.3" x2="276.0" y2="346.3" stroke="#555" stroke-width="0.6"/>
<line x1="271.79999999999995" y1="245.7" x2="274.4" y2="245.7" stroke="#555" stroke-width="0.7"/>
<text x="269.79999999999995" y="248.4" font-size="7.55" text-anchor="end">&gt;4,000</text>
<line x1="271.79999999999995" y1="270.7" x2="274.4" y2="270.7" stroke="#555" stroke-width="0.7"/>
<text x="269.79999999999995" y="273.4" font-size="7.55" text-anchor="end">3,000</text>
<line x1="271.79999999999995" y1="296.2" x2="274.4" y2="296.2" stroke="#555" stroke-width="0.7"/>
<text x="269.79999999999995" y="298.9" font-size="7.55" text-anchor="end">2,000</text>
<line x1="271.79999999999995" y1="321.3" x2="274.4" y2="321.3" stroke="#555" stroke-width="0.7"/>
<text x="269.79999999999995" y="324.0" font-size="7.55" text-anchor="end">1,000</text>
<line x1="271.79999999999995" y1="341.6" x2="274.4" y2="341.6" stroke="#555" stroke-width="0.7"/>
<text x="269.79999999999995" y="344.3" font-size="7.55" text-anchor="end">200</text>
<line x1="271.79999999999995" y1="358.5" x2="274.4" y2="358.5" stroke="#555" stroke-width="0.7"/>
<text x="269.79999999999995" y="361.2" font-size="7.55" text-anchor="end">100</text>
<line x1="271.79999999999995" y1="384.0" x2="274.4" y2="384.0" stroke="#555" stroke-width="0.7"/>
<text x="269.79999999999995" y="386.7" font-size="7.55" text-anchor="end">50</text>
<line x1="271.79999999999995" y1="409.1" x2="274.4" y2="409.1" stroke="#555" stroke-width="0.7"/>
<text x="269.79999999999995" y="411.8" font-size="7.55" text-anchor="end">0</text>
<line x1="285.1" y1="409.4" x2="285.1" y2="412.0" stroke="#555" stroke-width="0.7"/>
<text x="287.7" y="416.4" font-size="7.55" text-anchor="end" transform="rotate(-42 287.7 416.4)">NB-SD</text>
<line x1="307.45" y1="409.4" x2="307.45" y2="412.0" stroke="#555" stroke-width="0.7"/>
<text x="310.05" y="416.4" font-size="7.55" text-anchor="end" transform="rotate(-42 310.05 416.4)">NB69</text>
<line x1="329.8" y1="409.4" x2="329.8" y2="412.0" stroke="#555" stroke-width="0.7"/>
<text x="332.4" y="416.4" font-size="7.55" text-anchor="end" transform="rotate(-42 332.4 416.4)">SK-N-AS</text>
<line x1="352.15" y1="409.4" x2="352.15" y2="412.0" stroke="#555" stroke-width="0.7"/>
<text x="354.75" y="416.4" font-size="7.55" text-anchor="end" transform="rotate(-42 354.75 416.4)">NB-EbC1</text>
<line x1="374.5" y1="409.4" x2="374.5" y2="412.0" stroke="#555" stroke-width="0.7"/>
<text x="377.1" y="416.4" font-size="7.55" text-anchor="end" transform="rotate(-42 377.1 416.4)">NBL-S</text>
<line x1="396.85" y1="409.4" x2="396.85" y2="412.0" stroke="#555" stroke-width="0.7"/>
<text x="399.45" y="416.4" font-size="7.55" text-anchor="end" transform="rotate(-42 399.45 416.4)">NB-1643</text>
<line x1="419.2" y1="409.4" x2="419.2" y2="412.0" stroke="#555" stroke-width="0.7"/>
<text x="421.8" y="416.4" font-size="7.55" text-anchor="end" transform="rotate(-42 421.8 416.4)">IMR-5</text>
<line x1="441.55" y1="409.4" x2="441.55" y2="412.0" stroke="#555" stroke-width="0.7"/>
<text x="444.15" y="416.4" font-size="7.55" text-anchor="end" transform="rotate(-42 444.15 416.4)">SMS-SAN</text>
<line x1="463.9" y1="409.4" x2="463.9" y2="412.0" stroke="#555" stroke-width="0.7"/>
<text x="466.5" y="416.4" font-size="7.55" text-anchor="end" transform="rotate(-42 466.5 416.4)">NGP</text>
<line x1="486.25" y1="409.4" x2="486.25" y2="412.0" stroke="#555" stroke-width="0.7"/>
<text x="488.85" y="416.4" font-size="7.55" text-anchor="end" transform="rotate(-42 488.85 416.4)">LA-N-5</text>
<line x1="508.6" y1="409.4" x2="508.6" y2="412.0" stroke="#555" stroke-width="0.7"/>
<text x="511.2" y="416.4" font-size="7.55" text-anchor="end" transform="rotate(-42 511.2 416.4)">CHP-134</text>
<text x="243.3" y="320.3" font-size="7.5" text-anchor="middle" transform="rotate(-90 243.3 320.3)">ADC payload class median IC<tspan font-size="4.3" dy="1.7">50</tspan><tspan dy="-1.7"> (pmol/L)</tspan></text>
<rect x="282.30" y="242.80" width="5.6" height="5.6" fill="#fff" stroke="#1a1a1a" stroke-width="0.95"/>
<rect x="304.65" y="296.10" width="5.6" height="5.6" fill="#fff" stroke="#1a1a1a" stroke-width="0.95"/>
<rect x="327.00" y="242.80" width="5.6" height="5.6" fill="#fff" stroke="#1a1a1a" stroke-width="0.95"/>
<rect x="349.35" y="281.10" width="5.6" height="5.6" fill="#fff" stroke="#1a1a1a" stroke-width="0.95"/>
<rect x="371.70" y="310.90" width="5.6" height="5.6" fill="#fff" stroke="#1a1a1a" stroke-width="0.95"/>
<rect x="394.05" y="308.80" width="5.6" height="5.6" fill="#fff" stroke="#1a1a1a" stroke-width="0.95"/>
<rect x="416.40" y="318.10" width="5.6" height="5.6" fill="#fff" stroke="#1a1a1a" stroke-width="0.95"/>
<rect x="438.75" y="321.20" width="5.6" height="5.6" fill="#fff" stroke="#1a1a1a" stroke-width="0.95"/>
<rect x="461.10" y="295.90" width="5.6" height="5.6" fill="#fff" stroke="#1a1a1a" stroke-width="0.95"/>
<rect x="483.45" y="297.90" width="5.6" height="5.6" fill="#fff" stroke="#1a1a1a" stroke-width="0.95"/>
<rect x="505.80" y="307.40" width="5.6" height="5.6" fill="#fff" stroke="#1a1a1a" stroke-width="0.95"/>
<path d="M282.50,309.80 L287.70,315.00 M282.50,315.00 L287.70,309.80" stroke="#1a1a1a" stroke-width="1.1" fill="none"/>
<path d="M304.85,250.50 L310.05,255.70 M304.85,255.70 L310.05,250.50" stroke="#1a1a1a" stroke-width="1.1" fill="none"/>
<path d="M327.20,334.40 L332.40,339.60 M327.20,339.60 L332.40,334.40" stroke="#1a1a1a" stroke-width="1.1" fill="none"/>
<path d="M349.55,320.00 L354.75,325.20 M349.55,325.20 L354.75,320.00" stroke="#1a1a1a" stroke-width="1.1" fill="none"/>
<path d="M371.90,313.40 L377.10,318.60 M371.90,318.60 L377.10,313.40" stroke="#1a1a1a" stroke-width="1.1" fill="none"/>
<path d="M394.25,330.70 L399.45,335.90 M394.25,335.90 L399.45,330.70" stroke="#1a1a1a" stroke-width="1.1" fill="none"/>
<path d="M416.60,315.40 L421.80,320.60 M416.60,320.60 L421.80,315.40" stroke="#1a1a1a" stroke-width="1.1" fill="none"/>
<path d="M438.95,327.90 L444.15,333.10 M438.95,333.10 L444.15,327.90" stroke="#1a1a1a" stroke-width="1.1" fill="none"/>
<path d="M461.30,330.00 L466.50,335.20 M461.30,335.20 L466.50,330.00" stroke="#1a1a1a" stroke-width="1.1" fill="none"/>
<path d="M483.65,331.20 L488.85,336.40 M483.65,336.40 L488.85,331.20" stroke="#1a1a1a" stroke-width="1.1" fill="none"/>
<path d="M506.00,336.30 L511.20,341.50 M506.00,341.50 L511.20,336.30" stroke="#1a1a1a" stroke-width="1.1" fill="none"/>
<circle cx="285.10" cy="355.3" r="2.75" fill="#0a0a0a"/>
<circle cx="307.45" cy="371.1" r="2.75" fill="#0a0a0a"/>
<circle cx="329.80" cy="378.6" r="2.75" fill="#0a0a0a"/>
<circle cx="352.15" cy="390.2" r="2.75" fill="#0a0a0a"/>
<circle cx="374.50" cy="392.7" r="2.75" fill="#0a0a0a"/>
<circle cx="396.85" cy="399.2" r="2.75" fill="#0a0a0a"/>
<circle cx="419.20" cy="399.2" r="2.75" fill="#0a0a0a"/>
<circle cx="441.55" cy="401.4" r="2.75" fill="#0a0a0a"/>
<circle cx="463.90" cy="401.8" r="2.75" fill="#0a0a0a"/>
<circle cx="486.25" cy="404.0" r="2.75" fill="#0a0a0a"/>
<circle cx="508.60" cy="405.3" r="2.75" fill="#0a0a0a"/>
<circle cx="431.5" cy="246.2" r="2.8" fill="#0a0a0a"/>
<path d="M428.90,253.20 L434.10,258.40 M428.90,258.40 L434.10,253.20" stroke="#1a1a1a" stroke-width="1.1" fill="none"/>
<rect x="428.70" y="262.40" width="5.6" height="5.6" fill="#fff" stroke="#1a1a1a" stroke-width="0.95"/>
<text x="438.0" y="248.7" font-size="7.55" text-anchor="start">DNA</text>
<text x="438.0" y="258.3" font-size="7.55" text-anchor="start">Tubulin</text>
<text x="438.0" y="267.9" font-size="7.55" text-anchor="start">DNA topoisomerase I</text>
</svg>
</body></html>
